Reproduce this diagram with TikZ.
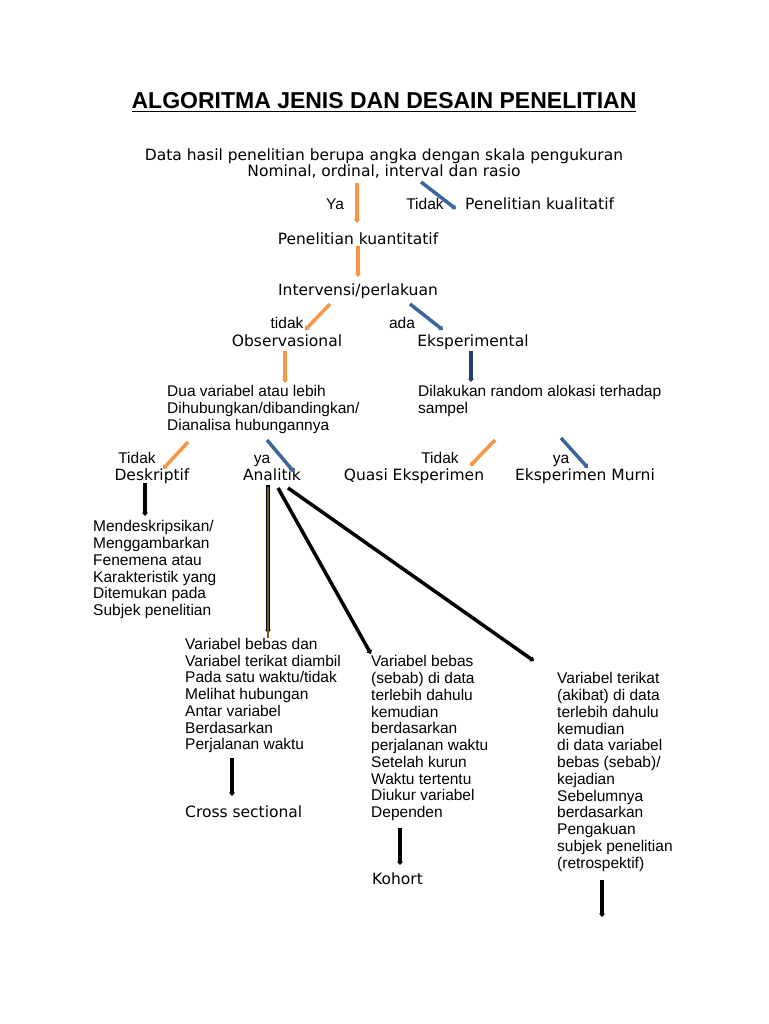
\documentclass[tikz,border=0pt]{standalone}
\usepackage{fontspec}
\setmainfont{DejaVu Sans}
\newfontfamily\arial{Liberation Sans}
\usetikzlibrary{arrows.meta}
\newcommand\myul[1]{\setbox0=\hbox{#1}\vtop{\copy0\kern2pt\hrule height 1.6pt width \wd0}}
\definecolor{ora}{HTML}{F79646}
\definecolor{blu}{HTML}{3A6699}
\definecolor{navy}{HTML}{1F3F73}
\definecolor{brn}{HTML}{7A5A14}
\tikzset{
  dv/.style={font=\fontsize{15.5}{16}\selectfont, inner sep=0pt, anchor=base},
  ar/.style={font=\arial\fontsize{15.5}{16.75}\selectfont, inner sep=0pt, anchor=base},
  blk/.style={ar, align=left, anchor=north west},
  tip/.style={-{Triangle[width=6pt,length=3.5pt]}},
  oarr/.style={tip, draw=ora, line width=3.5pt},
  barr/.style={tip, draw=blu, line width=3.5pt},
  narr/.style={tip, draw=navy, line width=3.5pt},
  karr/.style={tip, draw=black, line width=3.5pt},
}
\begin{document}
\begin{tikzpicture}[x=1pt,y=-1pt]
\useasboundingbox (0,0) rectangle (768,1024);
\fill[white] (0,0) rectangle (768,1024);
% texts
\node[font=\arial\bfseries\fontsize{23}{27}\selectfont, inner sep=0pt, anchor=base] (title) at (384,108.5) {\myul{ALGORITMA JENIS DAN DESAIN PENELITIAN}};
\node[dv, align=center, anchor=north] (data) at (384,148.5) {Data hasil penelitian berupa angka dengan skala pengukuran\\Nominal, ordinal, interval dan rasio};
\node[ar] (ya1) at (335,209.5) {Ya};
\node[ar] (tidak1) at (425,209.5) {Tidak};
\node[dv, anchor=base west] (kual) at (465,209.5) {Penelitian kualitatif};
\node[dv] (kuan) at (358,244.5) {Penelitian kuantitatif};
\node[dv] (interv) at (358,295.5) {Intervensi/perlakuan};
\node[ar] (tidak2) at (287,328.5) {tidak};
\node[dv] (obs) at (287,346.5) {Observasional};
\node[ar] (ada) at (402,328.5) {ada};
\node[dv] (eks) at (473,346.5) {Eksperimental};
\node[blk] (dua) at (167,385.5) {Dua variabel atau lebih\\Dihubungkan/dibandingkan/\\Dianalisa hubungannya};
\node[blk] (dil) at (418,385.5) {Dilakukan random alokasi terhadap\\sampel};
\node[ar] (tidak3) at (137,463.5) {Tidak};
\node[dv] (desk) at (152,480.5) {Deskriptif};
\node[ar] (ya3) at (262,463.5) {ya};
\node[dv] (anal) at (272,480.5) {Analitik};
\node[ar] (tidak4) at (440,463.5) {Tidak};
\node[dv] (quasi) at (414,480.5) {Quasi Eksperimen};
\node[ar] (ya4) at (561,463.5) {ya};
\node[dv] (murni) at (585,480.5) {Eksperimen Murni};
\node[blk] (mend) at (93,520.5) {Mendeskripsikan/\\Menggambarkan\\Fenemena atau\\Karakteristik yang\\Ditemukan pada\\Subjek penelitian};
\node[blk] (varA) at (185,638) {Variabel bebas dan\\Variabel terikat diambil\\Pada satu waktu/tidak\\Melihat hubungan\\Antar variabel\\Berdasarkan\\Perjalanan waktu};
\node[dv, anchor=base west] (cross) at (185,817.5) {Cross sectional};
\node[blk] (varB) at (371,655.5) {Variabel bebas\\(sebab) di data\\terlebih dahulu\\kemudian\\berdasarkan\\perjalanan waktu\\Setelah kurun\\Waktu tertentu\\Diukur variabel\\Dependen};
\node[dv, anchor=base west] (kohort) at (372,884.5) {Kohort};
\node[blk] (varC) at (557,672.5) {Variabel terikat\\(akibat) di data\\terlebih dahulu\\kemudian\\di data variabel\\bebas (sebab)/\\kejadian\\Sebelumnya\\berdasarkan\\Pengakuan\\subjek penelitian\\(retrospektif)};
% connector end points
\coordinate (c1a) at (357,183); \coordinate (c1b) at (357,223);
\coordinate (c2a) at (421,182); \coordinate (c2b) at (456,209);
\coordinate (c3a) at (358,246); \coordinate (c3b) at (358,277);
\coordinate (c4a) at (330,304); \coordinate (c4b) at (305,330);
\coordinate (c5a) at (410,304); \coordinate (c5b) at (443,330);
\coordinate (c6a) at (285,351); \coordinate (c6b) at (285,383);
\coordinate (c7a) at (471,351); \coordinate (c7b) at (471,382);
\coordinate (c8a) at (188,442); \coordinate (c8b) at (163,469);
\coordinate (c9a) at (267,440); \coordinate (c9b) at (294,472);
\coordinate (c10a) at (495,440); \coordinate (c10b) at (470,466);
\coordinate (c11a) at (561,438); \coordinate (c11b) at (588,468);
\coordinate (c12a) at (145,483); \coordinate (c12b) at (145,516);
\coordinate (c13a) at (268,485); \coordinate (c13b) at (268,633);
\coordinate (c14a) at (278,488); \coordinate (c14b) at (371,654);
\coordinate (c15a) at (288,488); \coordinate (c15b) at (534,661);
\coordinate (c16a) at (232,758); \coordinate (c16b) at (232,796);
\coordinate (c17a) at (400,828); \coordinate (c17b) at (400,865);
\coordinate (c18a) at (602,880); \coordinate (c18b) at (602,917);
% connectors
\draw[oarr] (c1a) -- (c1b);
\draw[barr] (c2a) -- (c2b);
\draw[oarr] (c3a) -- (c3b);
\draw[oarr] (c4a) -- (c4b);
\draw[barr] (c5a) -- (c5b);
\draw[oarr] (c6a) -- (c6b);
\draw[narr] (c7a) -- (c7b);
\draw[oarr] (c8a) -- (c8b);
\draw[barr] (c9a) -- (c9b);
\draw[oarr] (c10a) -- (c10b);
\draw[barr] (c11a) -- (c11b);
\draw[karr] (c12a) -- (c12b);
\draw[karr, line width=4.5pt] (c13a) -- (c13b);
\draw[brn, line width=2pt] (c13a) ++(0,1.5) -- ([yshift=-5pt]c13b);
\draw[karr] (c14a) -- (c14b);
\draw[karr] (c15a) -- (c15b);
\draw[karr] (c16a) -- (c16b);
\draw[karr] (c17a) -- (c17b);
\draw[karr] (c18a) -- (c18b);
\end{tikzpicture}
\end{document}
